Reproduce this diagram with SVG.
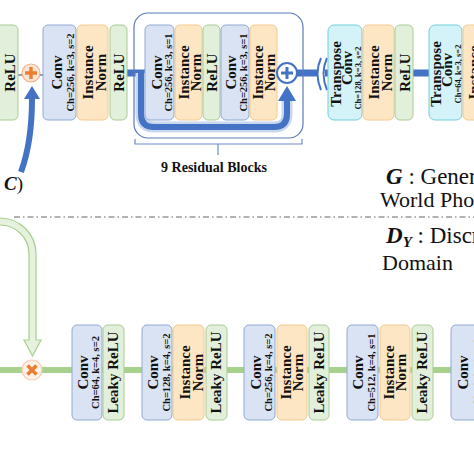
<svg xmlns="http://www.w3.org/2000/svg" width="474" height="474" viewBox="0 0 474 474">
<style>
.conv{fill:#dae3f3;stroke:#8ea9d4;stroke-width:1}
.tconv{fill:#d3f3f8;stroke:#72cfdc;stroke-width:1}
.norm{fill:#fde6c4;stroke:#f2c98f;stroke-width:1}
.relu{fill:#e2efda;stroke:#a9cc94;stroke-width:1}
text{font-family:"Liberation Serif","Times New Roman",serif;fill:#111}
.b{font-weight:bold;font-size:15px;text-anchor:middle}
.s{font-weight:bold;font-size:10.5px;text-anchor:middle}
.ss{font-weight:bold;font-size:8.5px;text-anchor:middle}
.big{font-size:22px}
.big2{font-size:23px}
</style>
<rect width="474" height="474" fill="#ffffff"/>

<g id="connectors">
  <line x1="16" y1="75" x2="45" y2="75" stroke="#8a9bb5" stroke-width="2"/>
  <line x1="127" y1="73" x2="146" y2="73" stroke="#4472c4" stroke-width="7"/>
  <line x1="296" y1="73" x2="318" y2="73" stroke="#4472c4" stroke-width="7"/>
  <line x1="325" y1="73" x2="330" y2="73" stroke="#4472c4" stroke-width="7"/>
  <path d="M321 58 Q314 73 321 90" fill="none" stroke="#4472c4" stroke-width="2"/>
  <path d="M327 58 Q320 73 327 90" fill="none" stroke="#4472c4" stroke-width="2"/>
  <line x1="412" y1="73" x2="430" y2="73" stroke="#4472c4" stroke-width="7"/>
  <path d="M141 73 V114 Q141 127 154 127 H274 Q287 127 287 114 V100" fill="none" stroke="#c9d7ef" stroke-width="11"/>
  <path d="M141 73 V114 Q141 127 154 127 H274 Q287 127 287 114 V100" fill="none" stroke="#4472c4" stroke-width="6"/>
  <polygon points="278,101 296,101 287,86" fill="#4472c4"/>
  <path d="M21 172 Q32 142 32 99" fill="none" stroke="#4472c4" stroke-width="6"/>
  <polygon points="24,99 40,99 32,86" fill="#4472c4"/>
  <line x1="0" y1="370" x2="474" y2="370" stroke="#a9d18e" stroke-width="6"/>
  <path d="M-5 218 H0 A36 36 0 0 1 36 254 V340 H41 L32.5 356 L24 340 H29 V254 A29 29 0 0 0 0 225 H-5 Z" fill="#e6f2de" stroke="#a9cf90" stroke-width="1.2"/>
  <line x1="14" y1="217" x2="474" y2="217" stroke="#666" stroke-width="1" stroke-dasharray="6 3 1.5 3"/>
</g>

<g id="residual-frame">
  <rect x="134" y="13" width="169" height="125" rx="14" fill="none" stroke="#5b7bb8" stroke-width="1.2"/>
  <path d="M135 139 V144 H302 V139 M218 144 V155" fill="none" stroke="#6d8cc4" stroke-width="1.2"/>
  <text x="214" y="172" font-size="14" font-weight="bold" text-anchor="middle">9 Residual Blocks</text>
</g>

<g id="plus-orange">
  <circle cx="31" cy="73" r="9" fill="#fbe5d6" stroke="#f4b183" stroke-width="1.2"/>
  <path d="M25 73 H37 M31 67 V79" stroke="#ed7d31" stroke-width="3.5"/>
</g>

<g id="g-relu0"><rect class="relu" x="-12" y="25" width="30" height="95" rx="5"/><text class="b" transform="translate(15,72.5) rotate(-90)">ReLU</text></g>
<g id="g-conv1"><rect class="conv" x="43" y="25" width="33" height="95" rx="5"/><text class="b" transform="translate(62,72.5) rotate(-90)">Conv</text><text class="s" transform="translate(74,72.5) rotate(-90)">Ch=256, k=3, s=2</text></g>
<g id="g-norm1"><rect class="norm" x="77" y="25" width="31" height="95" rx="5"/><text class="b" transform="translate(93,72.5) rotate(-90)">Instance</text><text class="b" transform="translate(106,72.5) rotate(-90)">Norm</text></g>
<g id="g-relu1"><rect class="relu" x="110" y="25" width="17" height="95" rx="5"/><text class="b" transform="translate(124,72.5) rotate(-90)">ReLU</text></g>

<g id="r-conv1"><rect class="conv" x="145" y="25" width="29" height="95" rx="5"/><text class="b" transform="translate(162,72.5) rotate(-90)">Conv</text><text class="s" transform="translate(172,72.5) rotate(-90)">Ch=256, k=3, s=1</text></g>
<g id="r-norm1"><rect class="norm" x="175" y="25" width="27" height="95" rx="5"/><text class="b" transform="translate(189,72.5) rotate(-90)">Instance</text><text class="b" transform="translate(201,72.5) rotate(-90)">Norm</text></g>
<g id="r-relu"><rect class="relu" x="203" y="25" width="17" height="95" rx="5"/><text class="b" transform="translate(217,72.5) rotate(-90)">ReLU</text></g>
<g id="r-conv2"><rect class="conv" x="221" y="25" width="28" height="95" rx="5"/><text class="b" transform="translate(236,72.5) rotate(-90)">Conv</text><text class="s" transform="translate(247,72.5) rotate(-90)">Ch=256, k=3, s=1</text></g>
<g id="r-norm2"><rect class="norm" x="250" y="25" width="27" height="95" rx="5"/><text class="b" transform="translate(263,72.5) rotate(-90)">Instance</text><text class="b" transform="translate(275,72.5) rotate(-90)">Norm</text></g>

<g id="plus-blue">
  <circle cx="287" cy="73" r="10" fill="#ffffff" stroke="#4472c4" stroke-width="2"/>
  <path d="M281 73 H293 M287 67 V79" stroke="#4472c4" stroke-width="3"/>
</g>

<g id="t-conv1"><rect class="tconv" x="328" y="25" width="34" height="95" rx="6"/><text class="b" transform="translate(341,74) rotate(-90)">Transpose</text><text class="b" transform="translate(352,68) rotate(-90)">Conv</text><text class="ss" transform="translate(360.5,78) rotate(-90)">Ch=128, k=3, s=2</text></g>
<g id="t-norm1"><rect class="norm" x="363" y="25" width="31" height="95" rx="5"/><text class="b" transform="translate(379,72.5) rotate(-90)">Instance</text><text class="b" transform="translate(392,72.5) rotate(-90)">Norm</text></g>
<g id="t-relu1"><rect class="relu" x="395" y="25" width="18" height="95" rx="5"/><text class="b" transform="translate(410,72.5) rotate(-90)">ReLU</text></g>
<g id="t-conv2"><rect class="tconv" x="429" y="25" width="33" height="95" rx="6"/><text class="b" transform="translate(441,74) rotate(-90)">Transpose</text><text class="b" transform="translate(452,70) rotate(-90)">Conv</text><text class="ss" transform="translate(460.5,74) rotate(-90)">Ch=64, k=3, s=2</text></g>
<g id="t-norm2"><rect class="norm" x="463" y="25" width="32" height="95" rx="5"/><text class="b" transform="translate(479,72.5) rotate(-90)">Instance</text></g>

<g id="labels">
  <text x="4" y="190" font-size="19"><tspan font-weight="bold" font-style="italic">C</tspan>)</text>
  <text class="big2" x="386" y="184"><tspan font-weight="bold" font-style="italic">G</tspan> : Generator</text>
  <text class="big" x="380" y="207">World Photo</text>
  <text class="big2" x="386" y="243"><tspan font-weight="bold" font-style="italic">D</tspan><tspan font-weight="bold" font-style="italic" font-size="15" dy="4">Y</tspan><tspan dy="-4"> : Discriminator</tspan></text>
  <text class="big" x="382" y="270">Domain</text>
</g>

<g id="mult">
  <circle cx="32" cy="370" r="10" fill="#fdf1e8" stroke="#f8cbad" stroke-width="1.2"/>
  <path d="M27.5 365.5 L36.5 374.5 M36.5 365.5 L27.5 374.5" stroke="#ed7d31" stroke-width="3.5"/>
</g>

<g id="d-conv1"><rect class="conv" x="72" y="325" width="30" height="95" rx="5"/><text class="b" transform="translate(88,372.5) rotate(-90)">Conv</text><text class="s" transform="translate(99,372.5) rotate(-90)">Ch=64, k=4, s=2</text></g>
<g id="d-lrelu1"><rect class="relu" x="103" y="325" width="21" height="95" rx="5"/><text class="b" transform="translate(118,372.5) rotate(-90)">Leaky ReLU</text></g>
<g id="d-conv2"><rect class="conv" x="142" y="325" width="30" height="95" rx="5"/><text class="b" transform="translate(158,372.5) rotate(-90)">Conv</text><text class="s" transform="translate(170,372.5) rotate(-90)">Ch=128, k=4, s=2</text></g>
<g id="d-norm2"><rect class="norm" x="173" y="325" width="31" height="95" rx="5"/><text class="b" transform="translate(190,372.5) rotate(-90)">Instance</text><text class="b" transform="translate(203,372.5) rotate(-90)">Norm</text></g>
<g id="d-lrelu2"><rect class="relu" x="206" y="325" width="21" height="95" rx="5"/><text class="b" transform="translate(221,372.5) rotate(-90)">Leaky ReLU</text></g>
<g id="d-conv3"><rect class="conv" x="244" y="325" width="31" height="95" rx="5"/><text class="b" transform="translate(261,372.5) rotate(-90)">Conv</text><text class="s" transform="translate(272,372.5) rotate(-90)">Ch=256, k=4, s=2</text></g>
<g id="d-norm3"><rect class="norm" x="277" y="325" width="30" height="95" rx="5"/><text class="b" transform="translate(291,372.5) rotate(-90)">Instance</text><text class="b" transform="translate(303,372.5) rotate(-90)">Norm</text></g>
<g id="d-lrelu3"><rect class="relu" x="309" y="325" width="20" height="95" rx="5"/><text class="b" transform="translate(324,372.5) rotate(-90)">Leaky ReLU</text></g>
<g id="d-conv4"><rect class="conv" x="347" y="325" width="31" height="95" rx="5"/><text class="b" transform="translate(363,372.5) rotate(-90)">Conv</text><text class="s" transform="translate(375,372.5) rotate(-90)">Ch=512, k=4, s=1</text></g>
<g id="d-norm4"><rect class="norm" x="380" y="325" width="30" height="95" rx="5"/><text class="b" transform="translate(394,372.5) rotate(-90)">Instance</text><text class="b" transform="translate(406,372.5) rotate(-90)">Norm</text></g>
<g id="d-lrelu4"><rect class="relu" x="412" y="325" width="21" height="95" rx="5"/><text class="b" transform="translate(427,372.5) rotate(-90)">Leaky ReLU</text></g>
<g id="d-conv5"><rect class="conv" x="451" y="325" width="35" height="95" rx="5"/><text class="b" transform="translate(468,372.5) rotate(-90)">Conv</text><text class="s" transform="translate(481,372.5) rotate(-90)">Ch=1, k=4, s=1</text></g>
</svg>
